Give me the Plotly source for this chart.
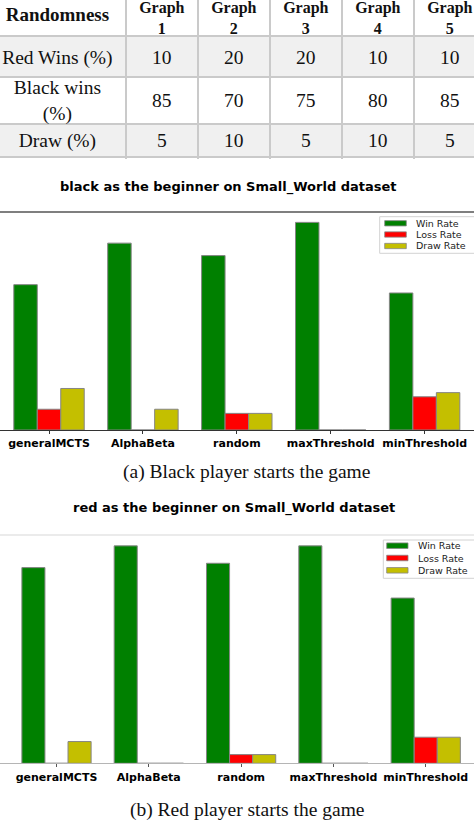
import textwrap
import plotly.graph_objects as go

# ---------------- data ----------------
table_header = ["Randomness", "Graph 1", "Graph 2", "Graph 3", "Graph 4", "Graph 5"]
table_row_labels = ["Red Wins (%)", "Black wins (%)", "Draw (%)"]
red_wins_pct = [10, 20, 20, 10, 10]
black_wins_pct = [85, 70, 75, 80, 85]
draw_pct = [5, 10, 5, 10, 5]

categories = ["generalMCTS", "AlphaBeta", "random", "maxThreshold", "minThreshold"]
series_names = ["Win Rate", "Loss Rate", "Draw Rate"]

black_first_win = [70, 90, 84, 100, 66]
black_first_loss = [10, 0, 8, 0, 16]
black_first_draw = [20, 10, 8, 0, 18]

red_first_win = [90, 100, 92, 100, 76]
red_first_loss = [0, 0, 4, 0, 12]
red_first_draw = [10, 0, 4, 0, 12]

chart_titles = ["black as the beginner on Small_World dataset",
                "red as the beginner on Small_World dataset"]
captions = ["(a) Black player starts the game", "(b) Red player starts the game"]

# ---------------- styling / layout constants ----------------
W, H = 474, 823
COLORS = ["#008000", "#ff0000", "#c4bf00"]
EDGE = "#858585"
BAR_W = 0.25
OFFSETS = [-0.375, -0.125, 0.125]
SERIF = "Liberation Serif"
SANS = "DejaVu Sans"


def px_x(p):
    return p / W


def px_y(p):
    return 1 - p / H


fig = go.Figure()

# ---------------- table (drawn on its own axes) ----------------
col_widths = [1.9, 1, 1, 1, 1, 1]
col_bounds = [0]
for w in col_widths:
    col_bounds.append(col_bounds[-1] + w)
col_centers = [(a + b) / 2 for a, b in zip(col_bounds[:-1], col_bounds[1:])]

row_heights = [40, 41, 47, 33]
row_bounds = [0]
for h in row_heights:
    row_bounds.append(row_bounds[-1] + h)
row_centers = [(a + b) / 2 for a, b in zip(row_bounds[:-1], row_bounds[1:])]
BODY_DY = [2.2, 1.5, 1.7]
HEADER_DY_SINGLE, HEADER_DY_MULTI = 0.7, 3.2


def wrap(s, width):
    return "<br>".join(textwrap.wrap(s, width, break_long_words=False))


header_text = [wrap(h, 6) for h in table_header]
header_y = [row_centers[0] + (HEADER_DY_MULTI if "<br>" in t else HEADER_DY_SINGLE)
            for t in header_text]
header_sizes = [19 if "<br>" not in t else 16 for t in header_text]
fig.add_trace(go.Scatter(
    x=col_centers, y=header_y, text=header_text,
    mode="text", textposition="middle center", hoverinfo="skip",
    textfont=dict(family=SERIF, size=header_sizes, color="#111", weight="bold"),
    xaxis="x3", yaxis="y3", showlegend=False))

body_values = [red_wins_pct, black_wins_pct, draw_pct]
for r, (label, vals) in enumerate(zip(table_row_labels, body_values)):
    texts = [wrap(label, 12)] + [str(v) for v in vals]
    fig.add_trace(go.Scatter(
        x=col_centers, y=[row_centers[r + 1] + BODY_DY[r]] * len(col_centers), text=texts,
        mode="text", textposition="middle center", hoverinfo="skip",
        textfont=dict(family=SERIF, size=19.5, color="#111"),
        xaxis="x3", yaxis="y3", showlegend=False))

shapes = []
# shaded rows (rows 1 and 3 of the body)
for r in (1, 3):
    shapes.append(dict(type="rect", xref="x3 domain", yref="y3",
                       x0=0, x1=1, y0=row_bounds[r], y1=row_bounds[r + 1],
                       fillcolor="#f0f0f0", line=dict(width=0), layer="below"))

# ---------------- bar charts ----------------
chart_data = [
    (black_first_win, black_first_loss, black_first_draw),
    (red_first_win, red_first_loss, red_first_draw),
]
axis_ids = [("x", "y"), ("x2", "y2")]
for (xa, ya), series in zip(axis_ids, chart_data):
    for name, vals, col, off in zip(series_names, series, COLORS, OFFSETS):
        fig.add_trace(go.Bar(
            x=categories, y=vals, name=name, width=BAR_W, offset=off,
            marker=dict(color=col, line=dict(color=EDGE, width=1)),
            xaxis=xa, yaxis=ya, showlegend=False))

tickfont = dict(family=SANS, size=11, color="#000", weight="bold")

layout_axes = dict(
    xaxis=dict(domain=[0, 1], anchor="y", range=[-0.522, 4.526],
               showline=True, linecolor="#333", linewidth=1.2,
               ticks="outside", ticklen=3, tickcolor="#333",
               showgrid=False, zeroline=False, tickfont=tickfont),
    yaxis=dict(domain=[px_y(430), px_y(212)], anchor="x", range=[0, 105],
               visible=False),
    xaxis2=dict(domain=[0, 1], anchor="y2", range=[-0.612, 4.523],
                showline=True, linecolor="#b5b5b5", linewidth=1.2,
                ticks="outside", ticklen=3, tickcolor="#555",
                showgrid=False, zeroline=False, tickfont=tickfont),
    yaxis2=dict(domain=[px_y(763.3), px_y(535)], anchor="x2", range=[0, 105],
                visible=False),
    xaxis3=dict(domain=[0, 1], anchor="y3", range=[11 / 72, 485 / 72],
                tickvals=col_bounds, showticklabels=False, ticks="",
                showgrid=True, gridcolor="#cacaca", gridwidth=1.5,
                zeroline=False, showline=False),
    yaxis3=dict(domain=[px_y(158.5), 1], anchor="x3", range=[162.5, 4],
                tickvals=row_bounds[1:], showticklabels=False, ticks="",
                showgrid=True, gridcolor="#cacaca", gridwidth=1.5,
                zeroline=False, showline=False),
)

# top spines
shapes.append(dict(type="line", xref="paper", yref="y domain", x0=0, x1=1,
                   y0=1, y1=1, line=dict(color="#555", width=1.3)))
shapes.append(dict(type="line", xref="paper", yref="y2 domain", x0=0, x1=1,
                   y0=1, y1=1, line=dict(color="#e4e4e4", width=1.5)))

annotations = []
# titles and captions
title_pos = [(228.7, 187.3), (233.8, 508.3)]
for t, (cx, cy) in zip(chart_titles, title_pos):
    annotations.append(dict(text=t, xref="paper", yref="paper", x=px_x(cx), y=px_y(cy),
                            xanchor="center", yanchor="middle", showarrow=False,
                            font=dict(family=SANS, size=13, color="#000", weight="bold")))
cap_pos = [(246.7, 471.7), (247.3, 810)]
for t, (cx, cy) in zip(captions, cap_pos):
    annotations.append(dict(text=t, xref="paper", yref="paper", x=px_x(cx), y=px_y(cy),
                            xanchor="center", yanchor="middle", showarrow=False,
                            font=dict(family=SERIF, size=19.5, color="#111")))

# legends (one per chart)
legend_specs = [
    dict(box=(379.7, 216.7, 253.3), sw=(384.7, 406.3), tx=414.7, ys=[223.3, 234.5, 246.0], sh=5.3),
    dict(box=(383.3, 540.0, 578.3), sw=(386.7, 408.0), tx=416.7, ys=[545.7, 558.0, 570.3], sh=5.5),
]
for spec in legend_specs:
    bx, bt, bb = spec["box"]
    shapes.append(dict(type="rect", xref="paper", yref="paper",
                       x0=px_x(bx), x1=px_x(W + 6), y0=px_y(bb), y1=px_y(bt),
                       fillcolor="rgba(255,255,255,0.9)", line=dict(color="#d2d2d2", width=1)))
    for name, col, yc in zip(series_names, COLORS, spec["ys"]):
        shapes.append(dict(type="rect", xref="paper", yref="paper",
                           x0=px_x(spec["sw"][0]), x1=px_x(spec["sw"][1]),
                           y0=px_y(yc + spec["sh"] / 2), y1=px_y(yc - spec["sh"] / 2),
                           fillcolor=col, line=dict(color=EDGE, width=0.8)))
        annotations.append(dict(text=name, xref="paper", yref="paper",
                                x=px_x(spec["tx"]), y=px_y(yc), xanchor="left",
                                yanchor="middle", showarrow=False, borderpad=0,
                                font=dict(family=SANS, size=9.5, color="#222")))

fig.update_layout(
    width=W, height=H, autosize=False,
    margin=dict(l=0, r=0, t=0, b=0, pad=0),
    paper_bgcolor="white", plot_bgcolor="white",
    barmode="overlay", showlegend=False,
    shapes=shapes, annotations=annotations,
    **layout_axes,
)

fig.write_html("out.html", config={"displayModeBar": False})
